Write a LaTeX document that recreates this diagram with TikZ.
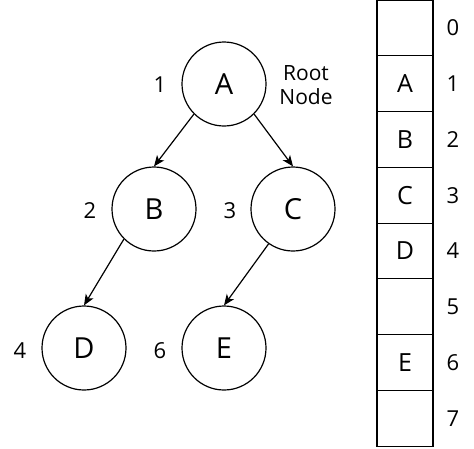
\documentclass[tikz,border=0pt]{standalone}
\usepackage{fontspec}
\setmainfont{Open Sans}
\usetikzlibrary{arrows.meta}
\begin{document}
\begin{tikzpicture}[x=1pt,y=-1pt,
  treenode/.style={circle,draw,line width=1.2pt,minimum size=84pt,inner sep=0pt,font=\fontsize{29}{32}\selectfont},
  idxlabel/.style={font=\fontsize{22}{24}\selectfont},
  cell/.style={draw,line width=1.2pt,minimum width=56pt,minimum height=55.75pt,inner sep=0pt,font=\fontsize{25}{28}\selectfont},
  arr/.style={line width=1.2pt,-{Stealth[length=11pt,width=9pt,inset=3pt]}}]
\useasboundingbox (0,0) rectangle (474,448);
% tree
\node[treenode] (A) at (224,84) {A};
\node[treenode] (B) at (154,209) {B};
\node[treenode] (C) at (293,209) {C};
\node[treenode] (D) at (84,348) {D};
\node[treenode] (E) at (224,348) {E};
\node[idxlabel] (nA) at (160,85) {1};
\node[idxlabel] (nB) at (90,211) {2};
\node[idxlabel] (nC) at (230,211) {3};
\node[idxlabel] (nD) at (20,351) {4};
\node[idxlabel] (nE) at (160,351) {6};
\node[font=\fontsize{21}{24}\selectfont,align=center] (root) at (306,85) {Root\\Node};
\draw[arr] (A.225) -- (B.north);
\draw[arr] (A.315) -- (C.north);
\draw[arr] (B.225) -- (D.north);
\draw[arr] (C.235) -- (E.north);
% array
\foreach \i/\t in {0/,1/A,2/B,3/C,4/D,5/,6/E,7/} {
  \node[cell] (c\i) at (405,{28+55.75*\i}) {\t};
  \node[font=\fontsize{22}{24}\selectfont] (i\i) at (453,{28+55.75*\i}) {\i};
}
\end{tikzpicture}
\end{document}
